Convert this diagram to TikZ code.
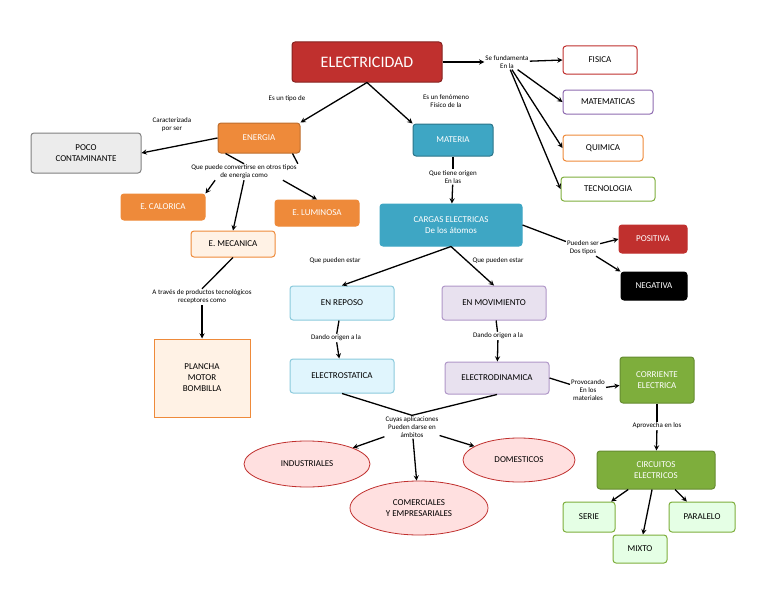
\documentclass[tikz,border=0pt]{standalone}
\usepackage{fontspec}
\setmainfont{Carlito}
\usetikzlibrary{shapes.geometric,arrows,positioning}
\definecolor{rojo}{HTML}{C0302E}
\definecolor{naranja}{HTML}{EE8A3A}
\definecolor{azul}{HTML}{3EA6C4}
\definecolor{verde}{HTML}{7EAE3C}
\definecolor{morado}{HTML}{8E6BB0}
\begin{document}
\begin{tikzpicture}[x=1pt,y=-1pt,
    block/.style={rectangle, draw, rounded corners=3pt, align=center, font=\fontsize{9}{11}\selectfont, line width=1pt},
    solid/.style={block, text=white},
    outline/.style={block, fill=white, text=black},
    pale/.style={block, text=black},
    oval/.style={ellipse, draw=rojo, fill=red!12, line width=0.8pt, align=center, font=\fontsize{9}{11}\selectfont},
    lbl/.style={align=center, font=\fontsize{7}{8}\selectfont, inner sep=1pt},
    arrow/.style={line width=1.3pt,->,>=stealth},
    link/.style={line width=1.3pt}
]
\useasboundingbox (0,0) rectangle (768,594);

% Top level
\node[solid, fill=rojo, draw=rojo!70!black, minimum width=150pt, minimum height=40pt, font=\fontsize{16}{18}\selectfont] (elec) at (367,62) {ELECTRICIDAD};
\node[lbl] (fund) at (507,62) {Se fundamenta\\En la};
\node[outline, draw=rojo, minimum width=74pt, minimum height=28pt] (fisica) at (600,60) {FISICA};
\node[outline, draw=morado, minimum width=90pt, minimum height=24pt] (mate) at (608,102) {MATEMATICAS};
\node[outline, draw=naranja, minimum width=80pt, minimum height=26pt] (quim) at (603,148) {QUIMICA};
\node[outline, draw=verde, minimum width=94pt, minimum height=24pt] (tecno) at (608,189) {TECNOLOGIA};

% Energia branch
\node[solid, fill=naranja, draw=naranja!80!black, minimum width=82pt, minimum height=30pt] (energia) at (259,138) {ENERGIA};
\node[lbl] (tipo) at (287,99) {Es un tipo de};
\node[pale, fill=gray!15, draw=gray, minimum width=110pt, minimum height=40pt] (poco) at (86,153) {POCO\\CONTAMINANTE};
\node[lbl] (carac) at (172,125) {Caracterizada\\por ser};
\node[lbl] (conv) at (244,172) {Que puede convertirse en otros tipos\\de energia como};
\node[solid, fill=naranja, draw=naranja, minimum width=84pt, minimum height=26pt] (calorica) at (163,207) {E. CALORICA};
\node[solid, fill=naranja, draw=naranja, minimum width=84pt, minimum height=26pt] (luminosa) at (317,213) {E. LUMINOSA};
\node[pale, fill=orange!10, draw=naranja, minimum width=84pt, minimum height=26pt] (mecanica) at (233,244) {E. MECANICA};
\node[lbl] (traves) at (202,297) {A través de productos tecnológicos\\receptores como};
\node[pale, fill=orange!10, draw=naranja, minimum width=96pt, minimum height=78pt, rounded corners=0pt] (plancha) at (202,378) {PLANCHA\\MOTOR\\BOMBILLA};

% Materia branch
\node[solid, fill=azul, draw=azul!70!black, minimum width=80pt, minimum height=32pt] (materia) at (453,140) {MATERIA};
\node[lbl] (fenom) at (446,101) {Es un fenómeno\\Físico de la};
\node[lbl] (origen) at (453,177) {Que tiene origen\\En las};
\node[solid, fill=azul, draw=azul, minimum width=142pt, minimum height=42pt] (cargas) at (451,225) {CARGAS ELECTRICAS\\De los átomos};
\node[lbl] (dos) at (583,248) {Pueden ser\\Dos tipos};
\node[solid, fill=rojo, draw=rojo, minimum width=68pt, minimum height=28pt] (positiva) at (653,239) {POSITIVA};
\node[solid, fill=black, draw=black, minimum width=66pt, minimum height=28pt] (negativa) at (654,286) {NEGATIVA};
\node[lbl] (estar1) at (335,261) {Que pueden estar};
\node[lbl] (estar2) at (498,261) {Que pueden estar};
\node[pale, fill=cyan!12, draw=azul!60, minimum width=104pt, minimum height=34pt] (reposo) at (342,303) {EN REPOSO};
\node[pale, fill=morado!20, draw=morado!70, minimum width=104pt, minimum height=34pt] (movim) at (494,303) {EN MOVIMIENTO};
\node[lbl] (dando1) at (336,338) {Dando origen a la};
\node[lbl] (dando2) at (498,336) {Dando origen a la};
\node[pale, fill=cyan!12, draw=azul!60, minimum width=104pt, minimum height=34pt] (estatica) at (342,376) {ELECTROSTATICA};
\node[pale, fill=morado!20, draw=morado!70, minimum width=104pt, minimum height=32pt] (dinamica) at (497,378) {ELECTRODINAMICA};

% Aplicaciones
\node[lbl] (cuyas) at (412,427) {Cuyas aplicaciones\\Pueden darse en\\ámbitos};
\node[oval, minimum width=126pt, minimum height=46pt] (indus) at (307,464) {INDUSTRIALES};
\node[oval, minimum width=112pt, minimum height=44pt] (domes) at (519,460) {DOMESTICOS};
\node[oval, minimum width=138pt, minimum height=54pt] (comer) at (419,508) {COMERCIALES\\Y EMPRESARIALES};

% Corriente
\node[lbl] (provoc) at (588,390) {Provocando\\En los\\materiales};
\node[solid, fill=verde, draw=verde!80!black, minimum width=74pt, minimum height=46pt] (corriente) at (657,380) {CORRIENTE\\ELECTRICA};
\node[lbl] (aprov) at (657,426) {Aprovecha en los};
\node[solid, fill=verde, draw=verde!80!black, minimum width=118pt, minimum height=38pt] (circuitos) at (656,470) {CIRCUITOS\\ELECTRICOS};
\node[pale, fill=green!10, draw=verde, minimum width=52pt, minimum height=30pt] (serie) at (589,517) {SERIE};
\node[pale, fill=green!10, draw=verde, minimum width=54pt, minimum height=28pt] (mixto) at (640,549) {MIXTO};
\node[pale, fill=green!10, draw=verde, minimum width=66pt, minimum height=30pt] (paralelo) at (702,517) {PARALELO};

% Arrows - top
\draw[arrow] (elec) -- (fund);
\foreach \t in {fisica,mate,quim,tecno}
  \draw[arrow] (fund) -- (\t.west);
\draw[arrow] (elec.south) -- (energia.north east);
\draw[arrow] (elec.south) -- (materia.north west);

% Arrows - energia
\draw[arrow] (energia.west) -- (poco.east);
\draw[link] (energia.south west) ++(8,0) -- (conv.north);
\draw[link] (energia.south east) ++(-8,0) -- (conv.north east);
\draw[arrow] (conv.south west) ++(25,0) -- (calorica.north east);
\draw[arrow] (conv.south) -- (mecanica.north);
\draw[arrow] (conv.south east) ++(-15,0) -- (luminosa.north);
\draw[link] (mecanica.south) -- (traves.north);
\draw[arrow] (traves) -- (plancha);

% Arrows - materia
\draw[link] (materia) -- (origen);
\draw[arrow] (origen) -- (cargas);
\draw[link] (cargas.east) -- (dos);
\draw[arrow] (dos) -- (positiva.west);
\draw[arrow] (dos) -- (negativa.north west);
\draw[arrow] (cargas.south) -- (reposo.north);
\draw[arrow] (cargas.south) -- (movim.north);
\draw[link] (reposo) -- (dando1);
\draw[arrow] (dando1) -- (estatica);
\draw[link] (movim) -- (dando2);
\draw[arrow] (dando2) -- (dinamica);

% Arrows - aplicaciones
\draw[link] (estatica.south) -- (cuyas.north);
\draw[link] (dinamica.south) -- (cuyas.north);
\draw[arrow] (cuyas) -- (indus);
\draw[arrow] (cuyas) -- (domes);
\draw[arrow] (cuyas) -- (comer);

% Arrows - corriente
\draw[link] (dinamica.east) -- (provoc);
\draw[arrow] (provoc) -- (corriente);
\draw[link] (corriente) -- (aprov);
\draw[arrow] (aprov) -- (circuitos);
\foreach \c in {serie,mixto,paralelo}
  \draw[arrow] (circuitos) -- (\c);
\end{tikzpicture}
\end{document}
